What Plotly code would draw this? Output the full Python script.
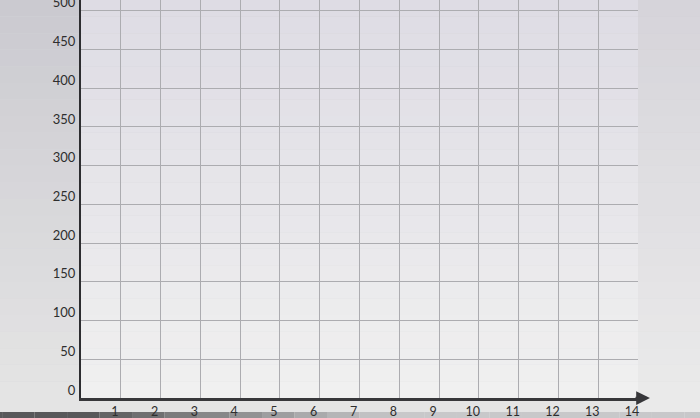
import plotly.graph_objects as go

# Data (axis definition of the blank grid)
x_ticks = list(range(0, 15))
x_tick_labels = [""] + [str(i) for i in range(1, 15)]
y_ticks = list(range(0, 501, 50))
y_tick_labels = [str(v) for v in y_ticks]
x_range = [0, 14]
y_range = [0, 514]

fig = go.Figure()
# invisible trace to establish axes
fig.add_trace(go.Scatter(x=[x_range[0], x_range[1]], y=[y_range[0], y_range[0]],
                         mode="markers", marker=dict(opacity=0), hoverinfo="skip",
                         showlegend=False))

shapes = []


def lerp(c1, c2, t):
    return "rgb(%d,%d,%d)" % tuple(round(a + (b - a) * t) for a, b in zip(c1, c2))


n = 24
# paper background gradient (top -> bottom)
for i in range(n):
    y0 = 1 - (i + 1) / n
    y1 = 1 - i / n
    shapes.append(dict(type="rect", xref="paper", yref="paper", x0=-0.2, x1=1.2,
                       y0=y0 - 0.1 if i == n - 1 else y0, y1=y1 + 0.1 if i == 0 else y1,
                       fillcolor=lerp((203, 202, 208), (228, 228, 228), i / (n - 1)),
                       line=dict(width=0), layer="below"))
# right area beyond grid slightly lighter
for i in range(n):
    y0 = 1 - (i + 1) / n
    y1 = 1 - i / n
    shapes.append(dict(type="rect", xref="paper", yref="paper", x0=1.0, x1=1.2,
                       y0=y0 - 0.1 if i == n - 1 else y0, y1=y1 + 0.1 if i == 0 else y1,
                       fillcolor=lerp((214, 212, 218), (234, 234, 234), i / (n - 1)),
                       line=dict(width=0), layer="below"))
# plot area (paper sheet) gradient
for i in range(n):
    y0 = 1 - (i + 1) / n
    y1 = 1 - i / n
    shapes.append(dict(type="rect", xref="paper", yref="paper", x0=0, x1=1,
                       y0=y0, y1=y1 + 0.05 if i == 0 else y1,
                       fillcolor=lerp((222, 220, 228), (240, 240, 240), i / (n - 1)),
                       line=dict(width=0), layer="below"))

# dark strip at bottom edge (photo edge), gradient left -> right
m = 24
for i in range(m):
    shapes.append(dict(type="rect", xref="paper", yref="paper",
                       x0=-0.2 + i * 1.4 / m, x1=-0.2 + (i + 1) * 1.4 / m,
                       y0=-0.07, y1=-0.035,
                       fillcolor=lerp((88, 88, 90), (200, 200, 202), max(0, min(1, (i - 3) / (m * 0.4)))),
                       line=dict(width=0), layer="below"))

fig.update_layout(
    width=700, height=418,
    margin=dict(l=81, r=62, t=0, b=20, autoexpand=False),
    paper_bgcolor="rgb(214,214,218)",
    plot_bgcolor="rgba(0,0,0,0)",
    showlegend=False,
    shapes=shapes,
    font=dict(family="Lato, Open Sans, sans-serif", size=13, color="#2e2e2e"),
    xaxis=dict(range=x_range, tickmode="array", tickvals=x_ticks, ticktext=x_tick_labels,
               showgrid=True, gridcolor="rgb(172,172,176)", gridwidth=1.2,
               showline=True, linecolor="rgb(55,55,58)", linewidth=2.5,
               zeroline=False, ticks="", ticklabelshift=-6, ticklabelstandoff=0,
               tickfont=dict(size=12.5), automargin=False, fixedrange=True),
    yaxis=dict(range=y_range, tickmode="array", tickvals=y_ticks, ticktext=y_tick_labels,
               showgrid=True, gridcolor="rgb(172,172,176)", gridwidth=1.2,
               showline=True, linecolor="rgb(45,45,48)", linewidth=2.2,
               zeroline=False, ticks="", ticklabelshift=-8, ticklabelstandoff=1,
               ticklabeloverflow="allow", automargin=False, fixedrange=True),
)

# axis arrow head
fig.add_annotation(x=14.3, y=0, ax=13.9, ay=0, xref="x", yref="y", axref="x", ayref="y",
                   text="", showarrow=True, arrowhead=2, arrowsize=1.1, arrowwidth=2.5,
                   arrowcolor="rgb(55,55,58)")

fig.write_html("out.html", config={"displayModeBar": False},
               post_script="document.body.style.margin='0';document.body.style.overflow='hidden';")
